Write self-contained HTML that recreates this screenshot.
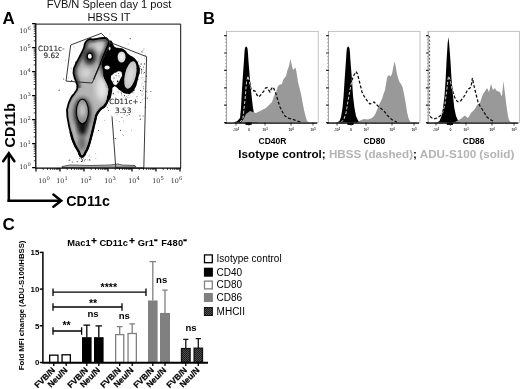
<!DOCTYPE html>
<html><head><meta charset="utf-8"><title>Figure</title>
<style>
html,body{margin:0;padding:0;background:#fff;}
svg{display:block;filter:blur(0.3px);}
text{font-family:"Liberation Sans", sans-serif;}
.b{font-weight:bold;}
.mono{font-family:"DejaVu Sans", "Liberation Sans", sans-serif;}
.ser{font-family:"DejaVu Serif", "Liberation Serif", serif;}
</style></head><body>
<svg width="520" height="389" viewBox="0 0 520 389">
<defs>
<filter id="bl1" x="-20%" y="-20%" width="140%" height="140%"><feGaussianBlur stdDeviation="1"/></filter>
<filter id="bl15" x="-20%" y="-20%" width="140%" height="140%"><feGaussianBlur stdDeviation="1.4"/></filter>
<filter id="bl2" x="-30%" y="-30%" width="160%" height="160%"><feGaussianBlur stdDeviation="2"/></filter>
<filter id="bl3" x="-30%" y="-30%" width="160%" height="160%"><feGaussianBlur stdDeviation="3"/></filter>
<filter id="soft" x="-5%" y="-5%" width="110%" height="110%"><feGaussianBlur stdDeviation="0.35"/></filter>
<pattern id="chk" width="2" height="2" patternUnits="userSpaceOnUse"><rect width="2" height="2" fill="#1c1c1c"/><rect width="1" height="1" fill="#505050"/><rect x="1" y="1" width="1" height="1" fill="#505050"/></pattern>
</defs>
<rect width="520" height="389" fill="#fff"/>

<g id="panelA">
<text x="2.4" y="24" class="b" font-size="17">A</text>
<text x="109" y="7.5" font-size="11.1" text-anchor="middle" fill="#111">FVB/N Spleen day 1 post</text>
<text x="109" y="21" font-size="11.1" text-anchor="middle" fill="#111">HBSS IT</text>
<circle cx="127.2" cy="90.2" r="0.35" fill="#333"/>
<circle cx="142.2" cy="90.9" r="0.5" fill="#333"/>
<circle cx="109.1" cy="58.2" r="0.4" fill="#333"/>
<circle cx="141.4" cy="85.0" r="0.35" fill="#333"/>
<circle cx="130.8" cy="105.3" r="0.35" fill="#333"/>
<circle cx="132.6" cy="70.9" r="0.4" fill="#333"/>
<circle cx="120.1" cy="60.6" r="0.35" fill="#333"/>
<circle cx="120.2" cy="70.6" r="0.4" fill="#333"/>
<circle cx="150.8" cy="91.4" r="0.5" fill="#333"/>
<circle cx="118.0" cy="92.1" r="0.5" fill="#333"/>
<circle cx="114.5" cy="68.8" r="0.35" fill="#333"/>
<circle cx="116.3" cy="66.0" r="0.5" fill="#333"/>
<circle cx="144.2" cy="98.1" r="0.35" fill="#333"/>
<circle cx="120.6" cy="64.1" r="0.6" fill="#333"/>
<circle cx="132.1" cy="57.9" r="0.6" fill="#333"/>
<circle cx="124.6" cy="91.6" r="0.4" fill="#333"/>
<circle cx="127.4" cy="65.8" r="0.5" fill="#333"/>
<circle cx="107.8" cy="73.6" r="0.6" fill="#333"/>
<circle cx="122.7" cy="134.4" r="0.35" fill="#333"/>
<circle cx="123.4" cy="79.1" r="0.5" fill="#333"/>
<circle cx="137.4" cy="98.9" r="0.35" fill="#333"/>
<circle cx="134.3" cy="78.1" r="0.5" fill="#333"/>
<circle cx="124.5" cy="95.7" r="0.6" fill="#333"/>
<circle cx="119.4" cy="69.4" r="0.35" fill="#333"/>
<circle cx="141.7" cy="72.3" r="0.35" fill="#333"/>
<circle cx="145.9" cy="91.6" r="0.6" fill="#333"/>
<circle cx="127.7" cy="99.3" r="0.5" fill="#333"/>
<circle cx="142.1" cy="83.1" r="0.4" fill="#333"/>
<circle cx="120.2" cy="65.0" r="0.4" fill="#333"/>
<circle cx="130.7" cy="69.5" r="0.4" fill="#333"/>
<circle cx="110.3" cy="106.7" r="0.6" fill="#333"/>
<circle cx="140.5" cy="90.6" r="0.5" fill="#333"/>
<circle cx="145.1" cy="55.3" r="0.5" fill="#333"/>
<circle cx="125.6" cy="62.2" r="0.4" fill="#333"/>
<circle cx="134.0" cy="90.1" r="0.4" fill="#333"/>
<circle cx="129.1" cy="77.4" r="0.4" fill="#333"/>
<circle cx="129.9" cy="81.8" r="0.6" fill="#333"/>
<circle cx="115.3" cy="74.1" r="0.5" fill="#333"/>
<circle cx="146.1" cy="71.1" r="0.35" fill="#333"/>
<circle cx="108.6" cy="90.9" r="0.6" fill="#333"/>
<circle cx="121.2" cy="92.0" r="0.6" fill="#333"/>
<circle cx="127.4" cy="74.6" r="0.35" fill="#333"/>
<circle cx="141.8" cy="77.9" r="0.35" fill="#333"/>
<circle cx="128.1" cy="85.5" r="0.35" fill="#333"/>
<circle cx="117.5" cy="69.9" r="0.5" fill="#333"/>
<circle cx="126.8" cy="75.0" r="0.4" fill="#333"/>
<circle cx="125.3" cy="72.5" r="0.5" fill="#333"/>
<circle cx="144.4" cy="72.5" r="0.6" fill="#333"/>
<circle cx="145.3" cy="107.1" r="0.6" fill="#333"/>
<circle cx="138.4" cy="79.7" r="0.4" fill="#333"/>
<circle cx="143.2" cy="86.8" r="0.5" fill="#333"/>
<circle cx="136.4" cy="81.3" r="0.35" fill="#333"/>
<circle cx="143.1" cy="115.9" r="0.5" fill="#333"/>
<circle cx="143.3" cy="93.9" r="0.35" fill="#333"/>
<circle cx="141.1" cy="64.6" r="0.35" fill="#333"/>
<circle cx="140.2" cy="66.3" r="0.5" fill="#333"/>
<circle cx="143.4" cy="69.8" r="0.4" fill="#333"/>
<circle cx="135.9" cy="72.3" r="0.5" fill="#333"/>
<circle cx="138.3" cy="61.3" r="0.4" fill="#333"/>
<circle cx="142.9" cy="50.3" r="0.4" fill="#333"/>
<circle cx="142.1" cy="95.7" r="0.35" fill="#333"/>
<circle cx="146.3" cy="76.2" r="0.6" fill="#333"/>
<circle cx="140.7" cy="102.5" r="0.5" fill="#333"/>
<circle cx="134.3" cy="90.2" r="0.5" fill="#333"/>
<circle cx="143.7" cy="73.7" r="0.4" fill="#333"/>
<circle cx="143.7" cy="88.8" r="0.5" fill="#333"/>
<circle cx="142.2" cy="99.5" r="0.35" fill="#333"/>
<circle cx="136.7" cy="81.0" r="0.35" fill="#333"/>
<circle cx="141.8" cy="71.0" r="0.6" fill="#333"/>
<circle cx="142.0" cy="51.9" r="0.6" fill="#333"/>
<circle cx="143.5" cy="67.0" r="0.5" fill="#333"/>
<circle cx="147.2" cy="98.1" r="0.6" fill="#333"/>
<circle cx="136.2" cy="84.1" r="0.35" fill="#333"/>
<circle cx="140.7" cy="68.4" r="0.4" fill="#333"/>
<circle cx="145.0" cy="81.7" r="0.6" fill="#333"/>
<circle cx="141.6" cy="69.6" r="0.6" fill="#333"/>
<circle cx="139.5" cy="65.6" r="0.4" fill="#333"/>
<circle cx="146.3" cy="81.8" r="0.35" fill="#333"/>
<circle cx="134.1" cy="71.8" r="0.6" fill="#333"/>
<circle cx="143.0" cy="77.1" r="0.4" fill="#333"/>
<circle cx="143.0" cy="79.9" r="0.4" fill="#333"/>
<circle cx="141.2" cy="63.8" r="0.6" fill="#333"/>
<circle cx="141.5" cy="73.1" r="0.5" fill="#333"/>
<circle cx="144.5" cy="63.9" r="0.6" fill="#333"/>
<circle cx="143.9" cy="49.0" r="0.4" fill="#333"/>
<circle cx="137.4" cy="74.1" r="0.35" fill="#333"/>
<circle cx="144.6" cy="58.1" r="0.35" fill="#333"/>
<circle cx="141.3" cy="69.0" r="0.4" fill="#333"/>
<circle cx="136.2" cy="82.3" r="0.35" fill="#333"/>
<circle cx="120.0" cy="106.4" r="0.6" fill="#333"/>
<circle cx="125.9" cy="97.2" r="0.35" fill="#333"/>
<circle cx="125.1" cy="104.8" r="0.35" fill="#333"/>
<circle cx="113.5" cy="99.6" r="0.35" fill="#333"/>
<circle cx="113.4" cy="102.9" r="0.4" fill="#333"/>
<circle cx="121.5" cy="93.8" r="0.6" fill="#333"/>
<circle cx="118.2" cy="99.8" r="0.5" fill="#333"/>
<circle cx="141.8" cy="94.1" r="0.4" fill="#333"/>
<circle cx="127.6" cy="97.2" r="0.35" fill="#333"/>
<circle cx="118.9" cy="103.3" r="0.4" fill="#333"/>
<circle cx="119.4" cy="101.8" r="0.5" fill="#333"/>
<circle cx="129.1" cy="87.5" r="0.4" fill="#333"/>
<circle cx="137.0" cy="96.8" r="0.5" fill="#333"/>
<circle cx="136.6" cy="109.7" r="0.6" fill="#333"/>
<circle cx="129.2" cy="114.5" r="0.6" fill="#333"/>
<circle cx="129.0" cy="97.6" r="0.4" fill="#333"/>
<circle cx="130.1" cy="105.4" r="0.6" fill="#333"/>
<circle cx="121.8" cy="103.4" r="0.5" fill="#333"/>
<circle cx="132.2" cy="103.1" r="0.5" fill="#333"/>
<circle cx="115.9" cy="97.8" r="0.35" fill="#333"/>
<circle cx="116.9" cy="104.8" r="0.5" fill="#333"/>
<circle cx="121.7" cy="99.8" r="0.4" fill="#333"/>
<circle cx="129.2" cy="99.5" r="0.5" fill="#333"/>
<circle cx="122.3" cy="112.9" r="0.4" fill="#333"/>
<circle cx="124.4" cy="103.1" r="0.6" fill="#333"/>
<circle cx="132.9" cy="92.7" r="0.5" fill="#333"/>
<circle cx="115.7" cy="104.1" r="0.6" fill="#333"/>
<circle cx="123.8" cy="97.5" r="0.35" fill="#333"/>
<circle cx="126.8" cy="96.4" r="0.35" fill="#333"/>
<circle cx="124.8" cy="101.1" r="0.35" fill="#333"/>
<circle cx="96.9" cy="100.1" r="0.4" fill="#333"/>
<circle cx="120.5" cy="130.3" r="0.6" fill="#333"/>
<circle cx="139.9" cy="115.8" r="0.6" fill="#333"/>
<circle cx="104.9" cy="101.2" r="0.4" fill="#333"/>
<circle cx="116.2" cy="120.5" r="0.35" fill="#333"/>
<circle cx="105.7" cy="106.3" r="0.4" fill="#333"/>
<circle cx="98.6" cy="130.6" r="0.5" fill="#333"/>
<circle cx="85.7" cy="106.7" r="0.6" fill="#333"/>
<circle cx="86.2" cy="110.0" r="0.5" fill="#333"/>
<circle cx="109.9" cy="33.9" r="0.35" fill="#333"/>
<circle cx="117.6" cy="113.9" r="0.4" fill="#333"/>
<circle cx="84.5" cy="108.3" r="0.6" fill="#333"/>
<circle cx="115.3" cy="138.6" r="0.6" fill="#333"/>
<circle cx="85.3" cy="83.9" r="0.6" fill="#333"/>
<circle cx="106.8" cy="106.0" r="0.4" fill="#333"/>
<circle cx="107.7" cy="107.5" r="0.4" fill="#333"/>
<circle cx="84.3" cy="123.0" r="0.35" fill="#333"/>
<circle cx="96.2" cy="106.4" r="0.5" fill="#333"/>
<circle cx="90.7" cy="113.6" r="0.6" fill="#333"/>
<circle cx="109.3" cy="82.9" r="0.5" fill="#333"/>
<circle cx="77.5" cy="87.7" r="0.35" fill="#333"/>
<circle cx="87.1" cy="113.7" r="0.6" fill="#333"/>
<circle cx="108.3" cy="110.5" r="0.5" fill="#333"/>
<circle cx="112.4" cy="104.6" r="0.4" fill="#333"/>
<circle cx="123.3" cy="121.1" r="0.4" fill="#333"/>
<circle cx="94.6" cy="110.9" r="0.6" fill="#333"/>
<circle cx="104.8" cy="120.2" r="0.4" fill="#333"/>
<circle cx="95.3" cy="153.3" r="0.35" fill="#333"/>
<circle cx="94.5" cy="120.8" r="0.6" fill="#333"/>
<circle cx="83.0" cy="97.0" r="0.5" fill="#333"/>
<circle cx="119.6" cy="121.6" r="0.4" fill="#333"/>
<circle cx="113.3" cy="93.4" r="0.6" fill="#333"/>
<circle cx="123.4" cy="89.7" r="0.6" fill="#333"/>
<circle cx="131.5" cy="130.1" r="0.4" fill="#333"/>
<circle cx="140.3" cy="119.2" r="0.6" fill="#333"/>
<circle cx="120.1" cy="86.5" r="0.4" fill="#333"/>
<circle cx="136.1" cy="99.4" r="0.35" fill="#333"/>
<circle cx="128.1" cy="95.6" r="0.4" fill="#333"/>
<circle cx="124.5" cy="114.1" r="0.5" fill="#333"/>
<circle cx="131.4" cy="108.6" r="0.6" fill="#333"/>
<circle cx="108.9" cy="104.9" r="0.4" fill="#333"/>
<circle cx="121.2" cy="112.1" r="0.35" fill="#333"/>
<circle cx="121.9" cy="95.4" r="0.35" fill="#333"/>
<circle cx="120.0" cy="107.6" r="0.6" fill="#333"/>
<circle cx="121.9" cy="117.5" r="0.5" fill="#333"/>
<circle cx="123.6" cy="135.4" r="0.4" fill="#333"/>
<circle cx="120.3" cy="73.9" r="0.6" fill="#333"/>
<circle cx="124.3" cy="107.4" r="0.5" fill="#333"/>
<circle cx="123.5" cy="92.7" r="0.4" fill="#333"/>
<circle cx="127.0" cy="115.7" r="0.5" fill="#333"/>
<circle cx="113.1" cy="94.5" r="0.4" fill="#333"/>
<circle cx="125.5" cy="112.4" r="0.5" fill="#333"/>
<circle cx="126.5" cy="110.9" r="0.4" fill="#333"/>
<circle cx="118.3" cy="101.6" r="0.5" fill="#333"/>
<circle cx="111.1" cy="115.5" r="0.35" fill="#333"/>
<circle cx="89.6" cy="159.8" r="0.5" fill="#333"/>
<circle cx="95.9" cy="158.7" r="0.35" fill="#333"/>
<circle cx="81.4" cy="161.5" r="0.6" fill="#333"/>
<circle cx="87.9" cy="159.9" r="0.4" fill="#333"/>
<circle cx="84.3" cy="160.8" r="0.5" fill="#333"/>
<circle cx="85.1" cy="159.4" r="0.5" fill="#333"/>
<circle cx="89.1" cy="155.9" r="0.4" fill="#333"/>
<circle cx="69.7" cy="160.1" r="0.6" fill="#333"/>
<circle cx="82.5" cy="160.1" r="0.6" fill="#333"/>
<circle cx="79.5" cy="156.3" r="0.4" fill="#333"/>
<circle cx="77.0" cy="162.0" r="0.35" fill="#333"/>
<circle cx="82.2" cy="159.8" r="0.5" fill="#333"/>
<circle cx="83.6" cy="158.3" r="0.4" fill="#333"/>
<circle cx="79.0" cy="151.6" r="0.5" fill="#333"/>
<circle cx="82.0" cy="161.5" r="0.6" fill="#333"/>
<circle cx="90.0" cy="160.0" r="0.5" fill="#333"/>
<circle cx="91.0" cy="157.0" r="0.35" fill="#333"/>
<circle cx="81.6" cy="161.3" r="0.5" fill="#333"/>
<circle cx="79.7" cy="158.3" r="0.5" fill="#333"/>
<circle cx="77.2" cy="161.4" r="0.5" fill="#333"/>
<circle cx="83.4" cy="155.9" r="0.35" fill="#333"/>
<circle cx="85.2" cy="154.8" r="0.4" fill="#333"/>
<circle cx="81.6" cy="158.7" r="0.6" fill="#333"/>
<circle cx="72.4" cy="162.0" r="0.5" fill="#333"/>
<circle cx="68.8" cy="160.8" r="0.4" fill="#333"/>
<circle cx="120.9" cy="48.5" r="0.5" fill="#333"/>
<circle cx="109.2" cy="51.8" r="0.5" fill="#333"/>
<circle cx="107.6" cy="46.1" r="0.6" fill="#333"/>
<circle cx="103.8" cy="42.2" r="0.4" fill="#333"/>
<circle cx="112.1" cy="42.5" r="0.6" fill="#333"/>
<circle cx="102.5" cy="42.3" r="0.5" fill="#333"/>
<circle cx="128.1" cy="43.9" r="0.4" fill="#333"/>
<circle cx="106.4" cy="42.9" r="0.4" fill="#333"/>
<circle cx="112.1" cy="45.8" r="0.4" fill="#333"/>
<circle cx="100.2" cy="50.7" r="0.4" fill="#333"/>
<circle cx="130.2" cy="38.6" r="0.6" fill="#333"/>
<circle cx="100.3" cy="49.6" r="0.4" fill="#333"/>
<circle cx="107.2" cy="47.2" r="0.35" fill="#333"/>
<circle cx="99.3" cy="44.1" r="0.5" fill="#333"/>
<circle cx="125.0" cy="48.2" r="0.4" fill="#333"/>
<circle cx="76.9" cy="86.4" r="0.6" fill="#333"/>
<circle cx="63.6" cy="79.0" r="0.5" fill="#333"/>
<circle cx="73.9" cy="46.9" r="0.35" fill="#333"/>
<circle cx="71.7" cy="80.6" r="0.6" fill="#333"/>
<circle cx="73.7" cy="66.8" r="0.35" fill="#333"/>
<circle cx="59.1" cy="90.2" r="0.6" fill="#333"/>
<circle cx="71.7" cy="68.2" r="0.35" fill="#333"/>
<circle cx="68.5" cy="77.9" r="0.35" fill="#333"/>
<circle cx="75.5" cy="62.0" r="0.6" fill="#333"/>
<circle cx="75.5" cy="82.3" r="0.35" fill="#333"/>
<circle cx="68.7" cy="60.0" r="0.35" fill="#333"/>
<circle cx="65.4" cy="60.6" r="0.4" fill="#333"/>
<rect x="109.5" y="98" width="28" height="16" fill="#fff"/>
<clipPath id="bodyclip"><path d="M87.0,40.6 C90.9,37.2 89.5,40.1 95.0,39.2 C100.5,38.3 99.3,37.9 103.5,38.0 C107.7,38.1 105.9,37.8 107.6,39.6 C109.3,41.4 109.3,39.6 108.6,43.4 C107.9,47.2 107.6,45.5 105.6,51.0 C103.6,56.5 103.5,55.0 102.6,60.0 C101.7,65.0 102.4,61.7 103.0,66.0 C103.6,70.3 103.9,69.3 104.4,73.0 C104.9,76.7 103.3,73.0 104.6,77.0 C105.9,81.0 106.6,80.3 108.3,85.0 C110.0,89.7 109.5,87.0 109.6,91.2 C109.7,95.4 109.9,92.9 108.5,97.5 C107.1,102.1 108.0,101.0 105.3,105.0 C102.6,109.0 103.2,106.2 100.3,109.5 C97.4,112.8 98.2,111.8 96.6,115.0 C95.0,118.2 96.6,114.8 95.5,119.0 C94.4,123.2 94.9,121.5 93.4,127.7 C91.9,133.9 92.6,131.4 90.9,137.7 C89.2,144.0 90.1,141.6 88.3,146.6 C86.5,151.6 86.9,149.7 85.4,152.6 C83.9,155.5 85.2,154.1 83.9,155.4 C82.6,156.7 83.0,156.9 81.6,156.6 C80.2,156.3 80.7,156.3 79.7,154.6 C78.7,152.9 80.5,155.5 78.6,151.6 C76.7,147.7 76.5,149.1 73.9,142.8 C71.3,136.5 72.6,139.8 70.7,132.7 C68.8,125.6 69.4,128.0 68.2,121.4 C67.0,114.8 67.4,117.8 67.2,113.0 C67.0,108.2 66.5,111.8 67.7,107.0 C68.9,102.2 68.2,103.6 70.7,98.7 C73.2,93.8 72.9,96.2 75.1,92.4 C77.3,88.6 77.0,90.7 77.4,87.4 C77.8,84.1 77.5,86.2 76.4,82.4 C75.3,78.6 75.1,79.9 74.2,76.0 C73.3,72.1 73.4,74.2 73.7,70.8 C74.0,67.4 73.4,70.0 75.1,65.8 C76.8,61.6 76.2,63.7 78.9,58.2 C81.6,52.7 80.6,55.3 83.3,49.4 C86.0,43.5 83.1,44.0 87.0,40.6 Z"/></clipPath>
<g clip-path="url(#bodyclip)">
<path d="M87.0,40.6 C90.9,37.2 89.5,40.1 95.0,39.2 C100.5,38.3 99.3,37.9 103.5,38.0 C107.7,38.1 105.9,37.8 107.6,39.6 C109.3,41.4 109.3,39.6 108.6,43.4 C107.9,47.2 107.6,45.5 105.6,51.0 C103.6,56.5 103.5,55.0 102.6,60.0 C101.7,65.0 102.4,61.7 103.0,66.0 C103.6,70.3 103.9,69.3 104.4,73.0 C104.9,76.7 103.3,73.0 104.6,77.0 C105.9,81.0 106.6,80.3 108.3,85.0 C110.0,89.7 109.5,87.0 109.6,91.2 C109.7,95.4 109.9,92.9 108.5,97.5 C107.1,102.1 108.0,101.0 105.3,105.0 C102.6,109.0 103.2,106.2 100.3,109.5 C97.4,112.8 98.2,111.8 96.6,115.0 C95.0,118.2 96.6,114.8 95.5,119.0 C94.4,123.2 94.9,121.5 93.4,127.7 C91.9,133.9 92.6,131.4 90.9,137.7 C89.2,144.0 90.1,141.6 88.3,146.6 C86.5,151.6 86.9,149.7 85.4,152.6 C83.9,155.5 85.2,154.1 83.9,155.4 C82.6,156.7 83.0,156.9 81.6,156.6 C80.2,156.3 80.7,156.3 79.7,154.6 C78.7,152.9 80.5,155.5 78.6,151.6 C76.7,147.7 76.5,149.1 73.9,142.8 C71.3,136.5 72.6,139.8 70.7,132.7 C68.8,125.6 69.4,128.0 68.2,121.4 C67.0,114.8 67.4,117.8 67.2,113.0 C67.0,108.2 66.5,111.8 67.7,107.0 C68.9,102.2 68.2,103.6 70.7,98.7 C73.2,93.8 72.9,96.2 75.1,92.4 C77.3,88.6 77.0,90.7 77.4,87.4 C77.8,84.1 77.5,86.2 76.4,82.4 C75.3,78.6 75.1,79.9 74.2,76.0 C73.3,72.1 73.4,74.2 73.7,70.8 C74.0,67.4 73.4,70.0 75.1,65.8 C76.8,61.6 76.2,63.7 78.9,58.2 C81.6,52.7 80.6,55.3 83.3,49.4 C86.0,43.5 83.1,44.0 87.0,40.6 Z" fill="#b4b4b4"/>
<clipPath id="upclip"><rect x="60" y="30" width="60" height="58"/></clipPath>
<g clip-path="url(#upclip)"><path d="M87.0,40.6 C90.9,37.2 89.5,40.1 95.0,39.2 C100.5,38.3 99.3,37.9 103.5,38.0 C107.7,38.1 105.9,37.8 107.6,39.6 C109.3,41.4 109.3,39.6 108.6,43.4 C107.9,47.2 107.6,45.5 105.6,51.0 C103.6,56.5 103.5,55.0 102.6,60.0 C101.7,65.0 102.4,61.7 103.0,66.0 C103.6,70.3 103.9,69.3 104.4,73.0 C104.9,76.7 103.3,73.0 104.6,77.0 C105.9,81.0 106.6,80.3 108.3,85.0 C110.0,89.7 109.5,87.0 109.6,91.2 C109.7,95.4 109.9,92.9 108.5,97.5 C107.1,102.1 108.0,101.0 105.3,105.0 C102.6,109.0 103.2,106.2 100.3,109.5 C97.4,112.8 98.2,111.8 96.6,115.0 C95.0,118.2 96.6,114.8 95.5,119.0 C94.4,123.2 94.9,121.5 93.4,127.7 C91.9,133.9 92.6,131.4 90.9,137.7 C89.2,144.0 90.1,141.6 88.3,146.6 C86.5,151.6 86.9,149.7 85.4,152.6 C83.9,155.5 85.2,154.1 83.9,155.4 C82.6,156.7 83.0,156.9 81.6,156.6 C80.2,156.3 80.7,156.3 79.7,154.6 C78.7,152.9 80.5,155.5 78.6,151.6 C76.7,147.7 76.5,149.1 73.9,142.8 C71.3,136.5 72.6,139.8 70.7,132.7 C68.8,125.6 69.4,128.0 68.2,121.4 C67.0,114.8 67.4,117.8 67.2,113.0 C67.0,108.2 66.5,111.8 67.7,107.0 C68.9,102.2 68.2,103.6 70.7,98.7 C73.2,93.8 72.9,96.2 75.1,92.4 C77.3,88.6 77.0,90.7 77.4,87.4 C77.8,84.1 77.5,86.2 76.4,82.4 C75.3,78.6 75.1,79.9 74.2,76.0 C73.3,72.1 73.4,74.2 73.7,70.8 C74.0,67.4 73.4,70.0 75.1,65.8 C76.8,61.6 76.2,63.7 78.9,58.2 C81.6,52.7 80.6,55.3 83.3,49.4 C86.0,43.5 83.1,44.0 87.0,40.6 Z" fill="none" stroke="#2c2c2c" stroke-width="5.5" filter="url(#bl15)"/></g>
<path d="M87.0,40.6 C90.9,37.2 89.5,40.1 95.0,39.2 C100.5,38.3 99.3,37.9 103.5,38.0 C107.7,38.1 105.9,37.8 107.6,39.6 C109.3,41.4 109.3,39.6 108.6,43.4 C107.9,47.2 107.6,45.5 105.6,51.0 C103.6,56.5 103.5,55.0 102.6,60.0 C101.7,65.0 102.4,61.7 103.0,66.0 C103.6,70.3 103.9,69.3 104.4,73.0 C104.9,76.7 103.3,73.0 104.6,77.0 C105.9,81.0 106.6,80.3 108.3,85.0 C110.0,89.7 109.5,87.0 109.6,91.2 C109.7,95.4 109.9,92.9 108.5,97.5 C107.1,102.1 108.0,101.0 105.3,105.0 C102.6,109.0 103.2,106.2 100.3,109.5 C97.4,112.8 98.2,111.8 96.6,115.0 C95.0,118.2 96.6,114.8 95.5,119.0 C94.4,123.2 94.9,121.5 93.4,127.7 C91.9,133.9 92.6,131.4 90.9,137.7 C89.2,144.0 90.1,141.6 88.3,146.6 C86.5,151.6 86.9,149.7 85.4,152.6 C83.9,155.5 85.2,154.1 83.9,155.4 C82.6,156.7 83.0,156.9 81.6,156.6 C80.2,156.3 80.7,156.3 79.7,154.6 C78.7,152.9 80.5,155.5 78.6,151.6 C76.7,147.7 76.5,149.1 73.9,142.8 C71.3,136.5 72.6,139.8 70.7,132.7 C68.8,125.6 69.4,128.0 68.2,121.4 C67.0,114.8 67.4,117.8 67.2,113.0 C67.0,108.2 66.5,111.8 67.7,107.0 C68.9,102.2 68.2,103.6 70.7,98.7 C73.2,93.8 72.9,96.2 75.1,92.4 C77.3,88.6 77.0,90.7 77.4,87.4 C77.8,84.1 77.5,86.2 76.4,82.4 C75.3,78.6 75.1,79.9 74.2,76.0 C73.3,72.1 73.4,74.2 73.7,70.8 C74.0,67.4 73.4,70.0 75.1,65.8 C76.8,61.6 76.2,63.7 78.9,58.2 C81.6,52.7 80.6,55.3 83.3,49.4 C86.0,43.5 83.1,44.0 87.0,40.6 Z" fill="none" stroke="#777" stroke-width="2.5" filter="url(#bl1)"/>
<ellipse cx="102" cy="88" rx="6" ry="13" fill="#e8e8e8" filter="url(#bl3)"/>
<ellipse cx="99" cy="47" rx="4.5" ry="5" fill="#d0d0d0" filter="url(#bl2)"/>
<ellipse cx="86" cy="73" rx="5" ry="5" fill="#d4d4d4" filter="url(#bl2)"/>
<ellipse cx="82.4" cy="113.5" rx="8.6" ry="15.5" fill="#1c1c1c" filter="url(#bl2)"/>
<ellipse cx="82.4" cy="129" rx="4.5" ry="7" fill="#111" filter="url(#bl2)"/>
<ellipse cx="82" cy="143" rx="3.5" ry="8" fill="#666" filter="url(#bl2)"/>
<ellipse cx="89.8" cy="56.8" rx="6.5" ry="8" fill="#262626" filter="url(#bl2)"/>
</g>
<ellipse cx="82.4" cy="111.6" rx="6" ry="12.3" fill="#8c8c8c" stroke="#000" stroke-width="1.1"/>
<clipPath id="ellclip"><ellipse cx="82.4" cy="111.6" rx="5.5" ry="11.8"/></clipPath>
<g clip-path="url(#ellclip)"><ellipse cx="82.4" cy="110" rx="3" ry="7.5" fill="#cfcfcf" filter="url(#bl2)"/></g>
<ellipse cx="89.8" cy="56.3" rx="2.6" ry="3.2" fill="#fff" stroke="#000" stroke-width="1.3"/>
<path d="M87.0,40.6 C90.9,37.2 89.5,40.1 95.0,39.2 C100.5,38.3 99.3,37.9 103.5,38.0 C107.7,38.1 105.9,37.8 107.6,39.6 C109.3,41.4 109.3,39.6 108.6,43.4 C107.9,47.2 107.6,45.5 105.6,51.0 C103.6,56.5 103.5,55.0 102.6,60.0 C101.7,65.0 102.4,61.7 103.0,66.0 C103.6,70.3 103.9,69.3 104.4,73.0 C104.9,76.7 103.3,73.0 104.6,77.0 C105.9,81.0 106.6,80.3 108.3,85.0 C110.0,89.7 109.5,87.0 109.6,91.2 C109.7,95.4 109.9,92.9 108.5,97.5 C107.1,102.1 108.0,101.0 105.3,105.0 C102.6,109.0 103.2,106.2 100.3,109.5 C97.4,112.8 98.2,111.8 96.6,115.0 C95.0,118.2 96.6,114.8 95.5,119.0 C94.4,123.2 94.9,121.5 93.4,127.7 C91.9,133.9 92.6,131.4 90.9,137.7 C89.2,144.0 90.1,141.6 88.3,146.6 C86.5,151.6 86.9,149.7 85.4,152.6 C83.9,155.5 85.2,154.1 83.9,155.4 C82.6,156.7 83.0,156.9 81.6,156.6 C80.2,156.3 80.7,156.3 79.7,154.6 C78.7,152.9 80.5,155.5 78.6,151.6 C76.7,147.7 76.5,149.1 73.9,142.8 C71.3,136.5 72.6,139.8 70.7,132.7 C68.8,125.6 69.4,128.0 68.2,121.4 C67.0,114.8 67.4,117.8 67.2,113.0 C67.0,108.2 66.5,111.8 67.7,107.0 C68.9,102.2 68.2,103.6 70.7,98.7 C73.2,93.8 72.9,96.2 75.1,92.4 C77.3,88.6 77.0,90.7 77.4,87.4 C77.8,84.1 77.5,86.2 76.4,82.4 C75.3,78.6 75.1,79.9 74.2,76.0 C73.3,72.1 73.4,74.2 73.7,70.8 C74.0,67.4 73.4,70.0 75.1,65.8 C76.8,61.6 76.2,63.7 78.9,58.2 C81.6,52.7 80.6,55.3 83.3,49.4 C86.0,43.5 83.1,44.0 87.0,40.6 Z" fill="none" stroke="#000" stroke-width="1.8" stroke-linejoin="round"/>
<path d="M109.4,91.2 C109.1,93.3 109.9,92.9 108.5,97.5 C107.1,102.1 108.0,101.0 105.3,105.0 C102.6,109.0 103.2,106.2 100.3,109.5 C97.4,112.8 98.2,111.8 96.6,115.0 C95.0,118.2 96.6,114.8 95.5,119.0 C94.4,123.2 94.9,121.5 93.4,127.7 C91.9,133.9 92.6,131.4 90.9,137.7 C89.2,144.0 90.1,141.6 88.3,146.6 C86.5,151.6 86.9,149.7 85.4,152.6 C83.9,155.5 85.2,154.1 83.9,155.4 C82.6,156.7 83.0,156.9 81.6,156.6 C80.2,156.3 80.7,156.3 79.7,154.6 C78.7,152.9 80.5,155.5 78.6,151.6 C76.7,147.7 76.5,149.1 73.9,142.8 C71.3,136.5 71.8,136.1 70.7,132.7" fill="none" stroke="#000" stroke-width="2.3" stroke-linecap="round" stroke-linejoin="round"/>
<path d="M103.5,64.0 C104.0,66.0 104.3,66.0 105.0,70.0 C105.7,74.0 104.4,72.0 105.6,76.0 C106.8,80.0 107.0,78.0 108.6,82.0 C110.2,86.0 109.9,84.3 110.4,88.0 C110.9,91.7 110.5,89.7 110.0,93.0 C109.5,96.3 109.2,96.3 108.8,98.0" fill="none" stroke="#000" stroke-width="3.6" stroke-linecap="round" stroke-linejoin="round"/>
<path d="M108.6,43.4 L93.6,79.5" fill="none" stroke="#000" stroke-width="1.1"/>
<path d="M111.0,40.4 C112.2,40.7 111.7,41.8 113.0,44.0 C114.3,46.2 113.0,45.7 115.0,47.0 C117.0,48.3 116.0,47.2 119.0,48.0 C122.0,48.8 120.7,47.3 124.0,49.4 C127.3,51.5 125.2,51.2 129.0,54.4 C132.8,57.6 132.0,55.1 135.3,58.9 C138.6,62.7 137.5,61.4 139.0,65.8 C140.5,70.2 139.9,68.5 139.8,72.0 C139.7,75.5 139.5,72.7 138.6,76.4 C137.7,80.1 138.1,79.2 137.0,83.0 C135.9,86.8 137.1,84.5 135.3,87.7 C133.5,90.9 134.4,90.7 131.5,92.7 C128.6,94.7 130.3,94.5 126.5,93.8 C122.7,93.1 123.6,92.8 120.2,90.6 C116.8,88.4 118.6,88.4 116.4,87.2 C114.2,86.0 115.1,85.9 113.5,87.0 C111.9,88.1 112.5,87.8 111.5,90.5 C110.5,93.2 111.3,92.0 110.6,95.0 C109.9,98.0 110.3,98.8 109.5,99.5 C108.7,100.2 108.3,99.8 108.2,97.0 C108.1,94.2 109.2,95.0 109.3,91.0 C109.4,87.0 109.5,88.3 108.6,85.0 C107.7,81.7 108.1,83.9 106.6,81.0 C105.1,78.1 104.9,79.1 104.2,76.4 C103.5,73.7 105.1,76.5 104.6,73.0 C104.1,69.5 103.5,69.7 102.8,66.0 C102.1,62.3 101.7,65.7 102.4,62.0 C103.1,58.3 103.1,59.7 104.8,55.0 C106.5,50.3 105.9,52.0 107.5,48.0 C109.1,44.0 108.3,45.5 109.5,43.0 C110.7,40.5 109.8,40.1 111.0,40.4 Z" fill="#000"/>
<ellipse cx="121.6" cy="57" rx="4" ry="5.6" fill="#dcdcdc"/>
<ellipse cx="121.6" cy="57" rx="2" ry="3.2" fill="#f4f4f4" filter="url(#bl1)"/>
<ellipse cx="130.4" cy="75" rx="5.5" ry="14" fill="#c6c6c6" transform="rotate(13 130.4 75)"/>
<clipPath id="ge"><ellipse cx="130.4" cy="75" rx="5.5" ry="14" transform="rotate(13 130.4 75)"/></clipPath>
<g clip-path="url(#ge)"><ellipse cx="130.2" cy="74.7" rx="2.6" ry="10" fill="#e0e0e0" filter="url(#bl2)" transform="rotate(13 130.4 75)"/></g>
<ellipse cx="107.1" cy="67.5" rx="2.6" ry="2" fill="#f4f4f4"/>
<ellipse cx="109.6" cy="48.6" rx="1" ry="1.8" fill="#ddd"/>
<path d="M119.0,71.3 C121.0,71.7 121.6,71.3 122.0,73.9 C122.4,76.5 121.8,75.8 120.3,79.0 C118.8,82.2 119.3,81.5 117.5,83.5 C115.7,85.5 116.7,85.5 115.0,85.0 C113.3,84.5 113.9,84.5 112.5,82.0 C111.1,79.5 110.7,80.2 110.9,77.6 C111.1,75.0 111.3,76.0 113.0,74.3 C114.7,72.6 114.0,73.6 116.0,72.6 C118.0,71.6 117.0,70.9 119.0,71.3 Z" fill="#f6f6f6"/>
<circle cx="117.7" cy="81.4" r="0.8" fill="#000"/>
<circle cx="114" cy="78" r="0.5" fill="#000"/>
<circle cx="116" cy="75.5" r="0.45" fill="#000"/>
<circle cx="119" cy="76" r="0.45" fill="#000"/>
<circle cx="113.5" cy="81.5" r="0.4" fill="#000"/>
<circle cx="118.5" cy="73.5" r="0.4" fill="#000"/>
<path d="M62,166.5 L70,165 L90,165.5 L110,165 L118,164 L122,165 L135,165.5 L136,167 L62,167.5 Z" fill="#bbb" stroke="#222" stroke-width="0.7"/>
<path d="M70.7,45 L101.3,33.3 L110.4,42.5 L92.1,83 L66,81.1 Z" fill="none" stroke="#222" stroke-width="0.9"/>
<path d="M110.4,42.5 L146.6,56.7 L143.8,168 L115.8,168 L112,116.5" fill="none" stroke="#222" stroke-width="0.9"/>
<text x="51.4" y="50.8" class="mono" font-size="7.3" text-anchor="middle" fill="#2a2a2a" stroke="#2a2a2a" stroke-width="0.12">CD11c-</text>
<text x="51.6" y="58.2" class="mono" font-size="7.3" text-anchor="middle" fill="#2a2a2a" stroke="#2a2a2a" stroke-width="0.12">9.62</text>
<text x="123.8" y="104" class="mono" font-size="7.05" text-anchor="middle" fill="#2a2a2a" stroke="#2a2a2a" stroke-width="0.12">CD11c+</text>
<text x="123.2" y="112.6" class="mono" font-size="7.3" text-anchor="middle" fill="#2a2a2a" stroke="#2a2a2a" stroke-width="0.12">3.53</text>
<path d="M35.7,24.1 H180.7 V168" fill="none" stroke="#000" stroke-width="0.95"/>
<path d="M35.8,23.6 V168.2 H181" fill="none" stroke="#000" stroke-width="1.25"/>
<path d="M35.7,167.7 h-3.6 M36,168 v3.6 M35.7,143.7 h-3.6 M60,168 v3.6 M35.7,119.7 h-3.6 M84,168 v3.6 M35.7,95.7 h-3.6 M108,168 v3.6 M35.7,71.7 h-3.6 M132,168 v3.6 M35.7,47.7 h-3.6 M156,168 v3.6 M35.7,23.7 h-3.6 M180,168 v3.6" stroke="#000" stroke-width="1.2" fill="none"/>
<path d="M35.7,160.8 h-2 M43.2,168 v2 M35.7,156.5 h-2 M47.5,168 v2 M35.7,153.6 h-2 M50.4,168 v2 M35.7,151.2 h-2 M52.8,168 v2 M35.7,149.3 h-2 M54.7,168 v2 M35.7,147.7 h-2 M56.3,168 v2 M35.7,146.3 h-2 M57.7,168 v2 M35.7,145.1 h-2 M58.9,168 v2 M35.7,136.8 h-2 M67.2,168 v2 M35.7,132.5 h-2 M71.5,168 v2 M35.7,129.6 h-2 M74.4,168 v2 M35.7,127.2 h-2 M76.8,168 v2 M35.7,125.3 h-2 M78.7,168 v2 M35.7,123.7 h-2 M80.3,168 v2 M35.7,122.3 h-2 M81.7,168 v2 M35.7,121.1 h-2 M82.9,168 v2 M35.7,112.8 h-2 M91.2,168 v2 M35.7,108.5 h-2 M95.5,168 v2 M35.7,105.6 h-2 M98.4,168 v2 M35.7,103.2 h-2 M100.8,168 v2 M35.7,101.3 h-2 M102.7,168 v2 M35.7,99.7 h-2 M104.3,168 v2 M35.7,98.3 h-2 M105.7,168 v2 M35.7,97.1 h-2 M106.9,168 v2 M35.7,88.8 h-2 M115.2,168 v2 M35.7,84.5 h-2 M119.5,168 v2 M35.7,81.6 h-2 M122.4,168 v2 M35.7,79.2 h-2 M124.8,168 v2 M35.7,77.3 h-2 M126.7,168 v2 M35.7,75.7 h-2 M128.3,168 v2 M35.7,74.3 h-2 M129.7,168 v2 M35.7,73.1 h-2 M130.9,168 v2 M35.7,64.8 h-2 M139.2,168 v2 M35.7,60.5 h-2 M143.5,168 v2 M35.7,57.6 h-2 M146.4,168 v2 M35.7,55.2 h-2 M148.8,168 v2 M35.7,53.3 h-2 M150.7,168 v2 M35.7,51.7 h-2 M152.3,168 v2 M35.7,50.3 h-2 M153.7,168 v2 M35.7,49.1 h-2 M154.9,168 v2 M35.7,40.8 h-2 M163.2,168 v2 M35.7,36.5 h-2 M167.5,168 v2 M35.7,33.6 h-2 M170.4,168 v2 M35.7,31.2 h-2 M172.8,168 v2 M35.7,29.3 h-2 M174.7,168 v2 M35.7,27.7 h-2 M176.3,168 v2 M35.7,26.3 h-2 M177.7,168 v2 M35.7,25.1 h-2 M178.9,168 v2" stroke="#000" stroke-width="0.7" fill="none"/>
<text x="25" y="168.8" class="ser" font-size="6.4" fill="#262626" text-anchor="middle">10<tspan dy="-3" font-size="5.2">0</tspan></text>
<text x="25" y="146.8" class="ser" font-size="6.4" fill="#262626" text-anchor="middle">10<tspan dy="-3" font-size="5.2">1</tspan></text>
<text x="25" y="122.8" class="ser" font-size="6.4" fill="#262626" text-anchor="middle">10<tspan dy="-3" font-size="5.2">2</tspan></text>
<text x="25" y="98.8" class="ser" font-size="6.4" fill="#262626" text-anchor="middle">10<tspan dy="-3" font-size="5.2">3</tspan></text>
<text x="25" y="74.8" class="ser" font-size="6.4" fill="#262626" text-anchor="middle">10<tspan dy="-3" font-size="5.2">4</tspan></text>
<text x="25" y="50.8" class="ser" font-size="6.4" fill="#262626" text-anchor="middle">10<tspan dy="-3" font-size="5.2">5</tspan></text>
<text x="25" y="33.4" class="ser" font-size="6.4" fill="#262626" text-anchor="middle">10<tspan dy="-3" font-size="5.2">6</tspan></text>
<text x="44" y="183" class="ser" font-size="6.4" fill="#262626" text-anchor="middle">10<tspan dy="-3" font-size="5.2">0</tspan></text>
<text x="62" y="183" class="ser" font-size="6.4" fill="#262626" text-anchor="middle">10<tspan dy="-3" font-size="5.2">1</tspan></text>
<text x="86" y="183" class="ser" font-size="6.4" fill="#262626" text-anchor="middle">10<tspan dy="-3" font-size="5.2">2</tspan></text>
<text x="110" y="183" class="ser" font-size="6.4" fill="#262626" text-anchor="middle">10<tspan dy="-3" font-size="5.2">3</tspan></text>
<text x="134" y="183" class="ser" font-size="6.4" fill="#262626" text-anchor="middle">10<tspan dy="-3" font-size="5.2">4</tspan></text>
<text x="158" y="183" class="ser" font-size="6.4" fill="#262626" text-anchor="middle">10<tspan dy="-3" font-size="5.2">5</tspan></text>
<text x="176.5" y="183" class="ser" font-size="6.4" fill="#262626" text-anchor="middle">10<tspan dy="-3" font-size="5.2">6</tspan></text>
<path d="M8.8,202 V154" stroke="#000" stroke-width="2.5" fill="none"/>
<path d="M3.2,161.2 L8.8,153.2 L14.4,161.2" stroke="#000" stroke-width="2.5" fill="none" stroke-linejoin="miter" stroke-linecap="round"/>
<path d="M7.55,200.7 H60.5" stroke="#000" stroke-width="2.5" fill="none"/>
<path d="M53.4,194.6 L61.2,200.7 L53.4,206.8" stroke="#000" stroke-width="2.5" fill="none" stroke-linecap="round"/>
<text x="66.3" y="206.2" class="b" font-size="14.25">CD11c</text>
<text transform="translate(14.5,147.4) rotate(-90)" class="b" font-size="14.25">CD11b</text>
</g>
<g id="panelB">
<text x="203" y="24" class="b" font-size="16.5">B</text>
<rect x="226.4" y="31.3" width="91.79999999999998" height="91.3" fill="#fff" stroke="#aaa" stroke-width="0.7"/>
<path d="M233,122.6 L237,121.3 L240,118 L241,108 L241.6,96 L242.6,80 L244,60 L244.5,52 L244.9,48.6 L245.5,47 L246.2,46.6 L246.9,47 L247.5,48.6 L247.9,52 L248.4,60 L250,80 L251.6,96 L253,108 L254.5,116 L256,120 L258,122.6 Z" fill="#000"/>
<path d="M241,122.6 L243.5,119 L246,114 L250,111 L253,112 L256,113 L260,111 L266,108 L270,104 L272,102 L274,96 L276,92 L278,86 L280,84.5 L282,84 L283,80 L284.5,78 L286,76 L287.5,70 L289,66 L290.4,59 L291.5,64 L293,70 L294,69 L295.4,67.4 L296.5,72 L298,82 L299.5,88 L301,94 L302.5,102 L304,110 L305.5,116 L307,121 L309.5,122.6 Z" fill="#999"/>
<clipPath id="bk1"><path d="M233,122.6 L237,121.3 L240,118 L241,108 L241.6,96 L242.6,80 L244,60 L244.5,52 L244.9,48.6 L245.5,47 L246.2,46.6 L246.9,47 L247.5,48.6 L247.9,52 L248.4,60 L250,80 L251.6,96 L253,108 L254.5,116 L256,120 L258,122.6 Z"/></clipPath>
<path d="M240,122.6 L243,118 L245,100 L246.5,82 L248,76 L249.5,82 L251,89 L253,90.5 L255,91 L257,95 L259,97 L261.5,94 L264,91 L265.5,88 L267,87.6 L268.5,90 L270,92 L271.5,88.5 L273,87 L274.5,90 L276,94 L278,101 L280,107 L282.5,112 L285,116 L288,118 L292,119 L297,121 L302,122.4" fill="none" stroke="#111" stroke-width="1.3" stroke-dasharray="3 1.9"/>
<g clip-path="url(#bk1)"><path d="M240,122.6 L243,118 L245,100 L246.5,82 L248,76 L249.5,82 L251,89 L253,90.5 L255,91 L257,95 L259,97 L261.5,94 L264,91 L265.5,88 L267,87.6 L268.5,90 L270,92 L271.5,88.5 L273,87 L274.5,90 L276,94 L278,101 L280,107 L282.5,112 L285,116 L288,118 L292,119 L297,121 L302,122.4" fill="none" stroke="#ccc" stroke-width="1" stroke-dasharray="3 1.9"/></g>
<path d="M226.4,31.3 V122.6" stroke="#999" stroke-width="0.8"/>
<path d="M226.4,119.1 h-1.4 M226.4,115.6 h-1.4 M226.4,112.2 h-1.4 M226.4,108.7 h-1.4 M226.4,101.7 h-1.4 M226.4,98.2 h-1.4 M226.4,94.8 h-1.4 M226.4,91.3 h-1.4 M226.4,84.3 h-1.4 M226.4,80.8 h-1.4 M226.4,77.4 h-1.4 M226.4,73.9 h-1.4 M226.4,66.9 h-1.4 M226.4,63.4 h-1.4 M226.4,60.0 h-1.4 M226.4,56.5 h-1.4 M226.4,49.5 h-1.4 M226.4,46.0 h-1.4 M226.4,42.6 h-1.4 M226.4,39.1 h-1.4" stroke="#888" stroke-width="0.6"/>
<path d="M226.70000000000002,122.6 h-2.6 M226.70000000000002,105.2 h-2.6 M226.70000000000002,87.8 h-2.6 M226.70000000000002,70.4 h-2.6 M226.70000000000002,53.0 h-2.6 M226.70000000000002,35.6 h-2.6" stroke="#222" stroke-width="1.2"/>
<path d="M224.9,123.0 H317.2" stroke="#000" stroke-width="1.25"/>
<path d="M236,122.6 v3 M249,122.6 v3 M265,122.6 v3 M291,122.6 v3 M313,122.6 v3" stroke="#000" stroke-width="0.7"/>
<rect x="245.4" y="122.5" width="6.2" height="2.4" fill="#000"/>
<text x="236" y="131.2" font-size="3.4" text-anchor="middle" fill="#333" class="b">-10<tspan dy="-1.6" font-size="2.6">3</tspan></text>
<text x="249" y="131.2" font-size="3.6" text-anchor="middle" fill="#333" class="b">0</text>
<text x="265" y="131.2" font-size="3.4" text-anchor="middle" fill="#333" class="b">10<tspan dy="-1.6" font-size="2.6">3</tspan></text>
<text x="291" y="131.2" font-size="3.4" text-anchor="middle" fill="#333" class="b">10<tspan dy="-1.6" font-size="2.6">4</tspan></text>
<text x="313" y="131.2" font-size="3.4" text-anchor="middle" fill="#333" class="b">10<tspan dy="-1.6" font-size="2.6">5</tspan></text>
<text x="272.5" y="144.4" class="b" font-size="8.5" text-anchor="middle">CD40R</text>
<rect x="328.4" y="31.3" width="91.60000000000002" height="91.3" fill="#fff" stroke="#aaa" stroke-width="0.7"/>
<path d="M337,122.6 L339.5,121 L341,117 L342.5,108 L343.6,96 L344.6,80 L346,60 L346.5,52 L346.9,48.6 L347.5,47 L348.2,46.6 L348.9,47 L349.5,48.6 L349.9,52 L350.4,60 L352,80 L353,96 L354.5,108 L356,116 L358,120.5 L361,122.6 Z" fill="#000"/>
<path d="M357,122.6 L360,120.5 L364,119 L368,119.5 L372,118 L374,116 L375.5,113.5 L377,110 L378.5,106 L380,103 L382,99 L383.5,94 L385,90 L386,84 L387,78 L388,76 L389,75 L390.5,76.5 L392,74 L393.5,66 L394.6,61.4 L395.6,66 L397,74 L398,78 L399.5,82 L401,84 L402.5,87 L404,94 L405.5,102 L407,112 L408.5,118 L410,121.5 L412,122.6 Z" fill="#999"/>
<clipPath id="bk2"><path d="M337,122.6 L339.5,121 L341,117 L342.5,108 L343.6,96 L344.6,80 L346,60 L346.5,52 L346.9,48.6 L347.5,47 L348.2,46.6 L348.9,47 L349.5,48.6 L349.9,52 L350.4,60 L352,80 L353,96 L354.5,108 L356,116 L358,120.5 L361,122.6 Z"/></clipPath>
<path d="M341,122.6 L344,119 L346,113 L348,101 L350,90 L352,80 L354,75 L356,71.6 L357.5,74 L359,80 L360.5,86 L362,92 L364,96 L366,99 L368,102 L370,104 L372,103 L374,102 L376,104 L378,106 L381,108.5 L384,111 L387,115 L390,118 L393,120.5 L397,122" fill="none" stroke="#111" stroke-width="1.3" stroke-dasharray="3 1.9"/>
<g clip-path="url(#bk2)"><path d="M341,122.6 L344,119 L346,113 L348,101 L350,90 L352,80 L354,75 L356,71.6 L357.5,74 L359,80 L360.5,86 L362,92 L364,96 L366,99 L368,102 L370,104 L372,103 L374,102 L376,104 L378,106 L381,108.5 L384,111 L387,115 L390,118 L393,120.5 L397,122" fill="none" stroke="#ccc" stroke-width="1" stroke-dasharray="3 1.9"/></g>
<path d="M328.4,31.3 V122.6" stroke="#999" stroke-width="0.8"/>
<path d="M328.4,119.1 h-1.4 M328.4,115.6 h-1.4 M328.4,112.2 h-1.4 M328.4,108.7 h-1.4 M328.4,101.7 h-1.4 M328.4,98.2 h-1.4 M328.4,94.8 h-1.4 M328.4,91.3 h-1.4 M328.4,84.3 h-1.4 M328.4,80.8 h-1.4 M328.4,77.4 h-1.4 M328.4,73.9 h-1.4 M328.4,66.9 h-1.4 M328.4,63.4 h-1.4 M328.4,60.0 h-1.4 M328.4,56.5 h-1.4 M328.4,49.5 h-1.4 M328.4,46.0 h-1.4 M328.4,42.6 h-1.4 M328.4,39.1 h-1.4" stroke="#888" stroke-width="0.6"/>
<path d="M328.7,122.6 h-2.6 M328.7,105.2 h-2.6 M328.7,87.8 h-2.6 M328.7,70.4 h-2.6 M328.7,53.0 h-2.6 M328.7,35.6 h-2.6" stroke="#222" stroke-width="1.2"/>
<path d="M326.9,123.0 H419" stroke="#000" stroke-width="1.25"/>
<path d="M337,122.6 v3 M351,122.6 v3 M366,122.6 v3 M392,122.6 v3 M414,122.6 v3" stroke="#000" stroke-width="0.7"/>
<rect x="347.4" y="122.5" width="6.2" height="2.4" fill="#000"/>
<text x="337" y="131.2" font-size="3.4" text-anchor="middle" fill="#333" class="b">-10<tspan dy="-1.6" font-size="2.6">3</tspan></text>
<text x="351" y="131.2" font-size="3.6" text-anchor="middle" fill="#333" class="b">0</text>
<text x="366" y="131.2" font-size="3.4" text-anchor="middle" fill="#333" class="b">10<tspan dy="-1.6" font-size="2.6">3</tspan></text>
<text x="392" y="131.2" font-size="3.4" text-anchor="middle" fill="#333" class="b">10<tspan dy="-1.6" font-size="2.6">4</tspan></text>
<text x="414" y="131.2" font-size="3.4" text-anchor="middle" fill="#333" class="b">10<tspan dy="-1.6" font-size="2.6">5</tspan></text>
<text x="374.3" y="144.4" class="b" font-size="8.5" text-anchor="middle">CD80</text>
<rect x="428.2" y="31.3" width="91.09999999999997" height="91.3" fill="#fff" stroke="#aaa" stroke-width="0.7"/>
<path d="M437,122.6 L439.5,121 L441.5,116 L443,108 L444.5,96 L445.6,80 L446.6,60 L447.6,44 L448.4,37 L449.2,44 L450.4,60 L451.6,80 L453,96 L454.3,108 L456,116 L458,120.5 L460.5,122.6 Z" fill="#000"/>
<path d="M454,122.6 L458,120.5 L462,118 L463.5,116.5 L465,115.6 L466.5,117 L468,118 L469.5,115.5 L471,113 L472.5,111.5 L474,110 L475.5,108 L477,105 L478.5,104 L480,103 L481.5,98 L483,94 L484.5,92 L486,89.5 L487,88 L488,90 L489,92 L490,88 L491,84 L492,87 L493,90 L494,89 L495,88 L496,90 L497,91 L498.5,91.5 L500,92 L501,95 L502,96 L502.8,88 L503.4,81 L504,86 L505,94 L506,102 L507,110 L508,116 L509,120 L511,122.6 Z" fill="#999"/>
<clipPath id="bk3"><path d="M437,122.6 L439.5,121 L441.5,116 L443,108 L444.5,96 L445.6,80 L446.6,60 L447.6,44 L448.4,37 L449.2,44 L450.4,60 L451.6,80 L453,96 L454.3,108 L456,116 L458,120.5 L460.5,122.6 Z"/></clipPath>
<path d="M430,116.5 L432,118 L434,119 L437,118 L440,116 L442.5,113 L445,104 L447,88 L448.5,76 L450.2,80 L451.8,88 L453.3,93 L454.6,97 L456,100 L457.5,101.5 L459,102 L461,100.5 L463,98 L465,95 L467,91 L468.5,89 L470,88 L471.2,86 L472.4,78 L473.6,84 L475,90 L476.5,96 L478,102 L480,106 L482,109 L484.5,113 L487,117 L490,119.5 L494,121.6" fill="none" stroke="#111" stroke-width="1.3" stroke-dasharray="3 1.9"/>
<g clip-path="url(#bk3)"><path d="M430,116.5 L432,118 L434,119 L437,118 L440,116 L442.5,113 L445,104 L447,88 L448.5,76 L450.2,80 L451.8,88 L453.3,93 L454.6,97 L456,100 L457.5,101.5 L459,102 L461,100.5 L463,98 L465,95 L467,91 L468.5,89 L470,88 L471.2,86 L472.4,78 L473.6,84 L475,90 L476.5,96 L478,102 L480,106 L482,109 L484.5,113 L487,117 L490,119.5 L494,121.6" fill="none" stroke="#ccc" stroke-width="1" stroke-dasharray="3 1.9"/></g>
<path d="M429.6,36 V116" stroke="#555" stroke-width="1" stroke-dasharray="2 1.6" fill="none"/>
<path d="M428.2,31.3 V122.6" stroke="#999" stroke-width="0.8"/>
<path d="M428.2,119.1 h-1.4 M428.2,115.6 h-1.4 M428.2,112.2 h-1.4 M428.2,108.7 h-1.4 M428.2,101.7 h-1.4 M428.2,98.2 h-1.4 M428.2,94.8 h-1.4 M428.2,91.3 h-1.4 M428.2,84.3 h-1.4 M428.2,80.8 h-1.4 M428.2,77.4 h-1.4 M428.2,73.9 h-1.4 M428.2,66.9 h-1.4 M428.2,63.4 h-1.4 M428.2,60.0 h-1.4 M428.2,56.5 h-1.4 M428.2,49.5 h-1.4 M428.2,46.0 h-1.4 M428.2,42.6 h-1.4 M428.2,39.1 h-1.4" stroke="#888" stroke-width="0.6"/>
<path d="M428.5,122.6 h-2.6 M428.5,105.2 h-2.6 M428.5,87.8 h-2.6 M428.5,70.4 h-2.6 M428.5,53.0 h-2.6 M428.5,35.6 h-2.6" stroke="#222" stroke-width="1.2"/>
<path d="M426.7,123.0 H518.3" stroke="#000" stroke-width="1.25"/>
<path d="M436,122.6 v3 M450.4,122.6 v3 M466,122.6 v3 M492,122.6 v3 M514,122.6 v3" stroke="#000" stroke-width="0.7"/>
<rect x="446.79999999999995" y="122.5" width="6.2" height="2.4" fill="#000"/>
<text x="436" y="131.2" font-size="3.4" text-anchor="middle" fill="#333" class="b">-10<tspan dy="-1.6" font-size="2.6">3</tspan></text>
<text x="450.4" y="131.2" font-size="3.6" text-anchor="middle" fill="#333" class="b">0</text>
<text x="466" y="131.2" font-size="3.4" text-anchor="middle" fill="#333" class="b">10<tspan dy="-1.6" font-size="2.6">3</tspan></text>
<text x="492" y="131.2" font-size="3.4" text-anchor="middle" fill="#333" class="b">10<tspan dy="-1.6" font-size="2.6">4</tspan></text>
<text x="514" y="131.2" font-size="3.4" text-anchor="middle" fill="#333" class="b">10<tspan dy="-1.6" font-size="2.6">5</tspan></text>
<text x="473.7" y="144.4" class="b" font-size="8.5" text-anchor="middle">CD86</text>
<text x="238.3" y="157.9" class="b" font-size="11.5" textLength="276" lengthAdjust="spacingAndGlyphs">Isotype control; <tspan fill="#b4b4b4">HBSS (dashed)</tspan>; <tspan fill="#b4b4b4">ADU-S100 (solid)</tspan></text>
</g>
<g id="panelC">
<text x="2.6" y="229.6" class="b" font-size="17">C</text>
<text y="246" class="b" font-size="9.3"><tspan x="67.3">Mac1</tspan><tspan x="91.3" y="243.5" font-size="9.5" stroke="#000" stroke-width="0.35">+</tspan><tspan x="99.4" y="246">CD11c</tspan><tspan x="129.3" y="243.5" font-size="9.5" stroke="#000" stroke-width="0.35">+</tspan><tspan x="137.8" y="246">Gr1</tspan><tspan x="153.7" y="243.8" font-size="12" stroke="#000" stroke-width="0.25">-</tspan><tspan x="161.2" y="246" letter-spacing="0.25">F480</tspan><tspan x="183" y="243.8" font-size="12.5" stroke="#000" stroke-width="0.25">-</tspan></text>
<text transform="translate(23.5,370.2) rotate(-90)" class="b" font-size="7.75">Fold MFI change (ADU-S100/HBSS)</text>
<path d="M42.9,251.70000000000002 V362.5" stroke="#000" stroke-width="1.5" fill="none"/>
<path d="M39.8,362.5 H42.9" stroke="#000" stroke-width="1.4"/>
<text x="39.4" y="365.4" class="b" font-size="7.9" text-anchor="end">0</text>
<path d="M39.8,325.8 H42.9" stroke="#000" stroke-width="1.4"/>
<text x="39.4" y="328.7" class="b" font-size="7.9" text-anchor="end">5</text>
<path d="M39.8,289.1 H42.9" stroke="#000" stroke-width="1.4"/>
<text x="39.4" y="292.0" class="b" font-size="7.9" text-anchor="end">10</text>
<path d="M39.8,252.4 H42.9" stroke="#000" stroke-width="1.4"/>
<text x="39.4" y="255.3" class="b" font-size="7.9" text-anchor="end">15</text>
<rect x="49.65" y="355.16" width="8.3" height="7.339999999999975" fill="#fff" stroke="#000" stroke-width="1.3"/>
<rect x="62.05" y="354.793" width="8.3" height="7.706999999999994" fill="#fff" stroke="#000" stroke-width="1.3"/>
<path d="M86.8,337.177 V325.06600000000003 M83.39999999999999,325.06600000000003 H90.2" stroke="#000" stroke-width="1.3" fill="none"/>
<rect x="82" y="337.177" width="9.599999999999994" height="25.32299999999998" fill="#000"/>
<path d="M98.8,337.177 V325.8 M95.5,325.8 H102.1" stroke="#000" stroke-width="1.3" fill="none"/>
<rect x="94" y="337.177" width="9.599999999999994" height="25.32299999999998" fill="#000"/>
<path d="M119.7,334.608 V326.534 M116.8,326.534 H122.60000000000001" stroke="#808080" stroke-width="1.3" fill="none"/>
<rect x="115.65" y="334.608" width="8.100000000000005" height="27.891999999999996" fill="#fff" stroke="#808080" stroke-width="1.3"/>
<path d="M132.2,333.507 V323.96500000000003 M129.29999999999998,323.96500000000003 H135.1" stroke="#808080" stroke-width="1.3" fill="none"/>
<rect x="128.05" y="333.507" width="8.299999999999994" height="28.992999999999995" fill="#fff" stroke="#808080" stroke-width="1.3"/>
<path d="M152.8,300.477 V261.575 M149.5,261.575 H156.10000000000002" stroke="#808080" stroke-width="1.3" fill="none"/>
<rect x="148" y="300.477" width="9.599999999999994" height="62.023000000000025" fill="#808080"/>
<path d="M165.0,312.955 V290.201 M162.3,290.201 H167.7" stroke="#808080" stroke-width="1.3" fill="none"/>
<rect x="160" y="312.955" width="10" height="49.545000000000016" fill="#808080"/>
<path d="M185.8,348.554 V339.379 M183.20000000000002,339.379 H188.4" stroke="#111" stroke-width="1.3" fill="none"/>
<rect x="181.5" y="348.554" width="8.599999999999994" height="13.946000000000026" fill="url(#chk)" stroke="#111" stroke-width="1.3"/>
<path d="M198.3,348.187 V338.645 M195.70000000000002,338.645 H200.9" stroke="#111" stroke-width="1.3" fill="none"/>
<rect x="194.1" y="348.187" width="8.400000000000006" height="14.312999999999988" fill="url(#chk)" stroke="#111" stroke-width="1.3"/>
<path d="M42.15,362.7 H208" stroke="#000" stroke-width="1.9"/>
<path d="M53.8,362.5 v3.4 M66.2,362.5 v3.4 M86.8,362.5 v3.4 M98.8,362.5 v3.4 M119.7,362.5 v3.4 M132.2,362.5 v3.4 M152.8,362.5 v3.4 M165.0,362.5 v3.4 M185.8,362.5 v3.4 M198.3,362.5 v3.4" stroke="#000" stroke-width="1.3"/>
<text transform="translate(55.599999999999994,370.8) rotate(-45)" font-size="8.4" class="b" text-anchor="end" fill="#000" stroke="#000" stroke-width="0.2">FVB/N</text>
<text transform="translate(68.0,370.8) rotate(-45)" font-size="8.4" class="b" text-anchor="end" fill="#000" stroke="#000" stroke-width="0.2">Neu/N</text>
<text transform="translate(88.6,370.8) rotate(-45)" font-size="8.4" class="b" text-anchor="end" fill="#000" stroke="#000" stroke-width="0.2">FVB/N</text>
<text transform="translate(100.6,370.8) rotate(-45)" font-size="8.4" class="b" text-anchor="end" fill="#000" stroke="#000" stroke-width="0.2">Neu/N</text>
<text transform="translate(121.5,370.8) rotate(-45)" font-size="8.4" class="b" text-anchor="end" fill="#000" stroke="#000" stroke-width="0.2">FVB/N</text>
<text transform="translate(134.0,370.8) rotate(-45)" font-size="8.4" class="b" text-anchor="end" fill="#000" stroke="#000" stroke-width="0.2">Neu/N</text>
<text transform="translate(154.60000000000002,370.8) rotate(-45)" font-size="8.4" class="b" text-anchor="end" fill="#000" stroke="#000" stroke-width="0.2">FVB/N</text>
<text transform="translate(166.8,370.8) rotate(-45)" font-size="8.4" class="b" text-anchor="end" fill="#000" stroke="#000" stroke-width="0.2">Neu/N</text>
<text transform="translate(187.60000000000002,370.8) rotate(-45)" font-size="8.4" class="b" text-anchor="end" fill="#000" stroke="#000" stroke-width="0.2">FVB/N</text>
<text transform="translate(200.10000000000002,370.8) rotate(-45)" font-size="8.4" class="b" text-anchor="end" fill="#000" stroke="#000" stroke-width="0.2">Neu/N</text>
<path d="M53,331 H81.6 M53,327.2 V334.8 M81.6,327.2 V334.8" stroke="#000" stroke-width="1.3" fill="none"/>
<path d="M53,307 H122 M53,303.2 V310.8 M122,303.2 V310.8" stroke="#000" stroke-width="1.3" fill="none"/>
<path d="M53,292.2 H146 M53,288.4 V296.0 M146,288.4 V296.0" stroke="#000" stroke-width="1.3" fill="none"/>
<text x="66.6" y="328.8" class="b" font-size="10.6" text-anchor="middle">**</text>
<text x="93.1" y="306.8" class="b" font-size="10.6" text-anchor="middle">**</text>
<text x="108.8" y="291.4" class="b" font-size="10.6" text-anchor="middle">****</text>
<text x="93" y="317.4" class="b" font-size="9.6" text-anchor="middle">ns</text>
<text x="124.3" y="318.7" class="b" font-size="9.6" text-anchor="middle">ns</text>
<text x="161.7" y="283" class="b" font-size="9.6" text-anchor="middle">ns</text>
<text x="191" y="330.6" class="b" font-size="9.6" text-anchor="middle">ns</text>
<rect x="204.5" y="254.9" width="7.8" height="7.8" fill="#fff" stroke="#000" stroke-width="1.3"/>
<text x="216.6" y="262.2" font-size="10" fill="#000">Isotype control</text>
<rect x="203.9" y="267.7" width="9" height="9" fill="#000"/>
<text x="216.6" y="275.59999999999997" font-size="10" fill="#000">CD40</text>
<rect x="204.5" y="281.1" width="7.8" height="7.8" fill="#fff" stroke="#808080" stroke-width="1.3"/>
<text x="216.6" y="288.4" font-size="10" fill="#000">CD80</text>
<rect x="203.9" y="293" width="9" height="9" fill="#808080"/>
<text x="216.6" y="300.9" font-size="10" fill="#000">CD86</text>
<rect x="204.4" y="307.5" width="8" height="8" fill="url(#chk)" stroke="#111" stroke-width="1"/>
<text x="216.6" y="314.9" font-size="10" fill="#000">MHCII</text>
</g>
</svg></body></html>
